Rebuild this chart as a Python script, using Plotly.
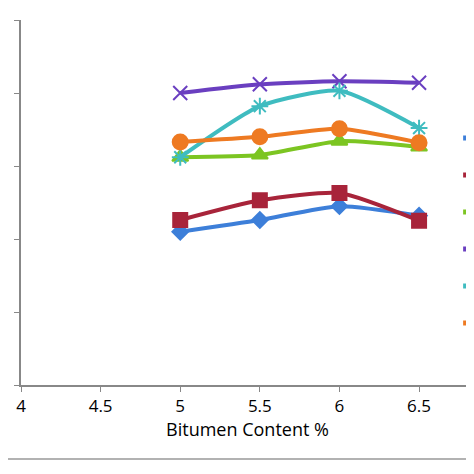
import plotly.graph_objects as go

# bitumen content on x, property values (y labels are cropped)
bitumen = [5, 5.5, 6, 6.5]
blue_vals = [2.10, 2.26, 2.45, 2.32]
red_vals = [2.26, 2.53, 2.63, 2.25]
green_vals = [3.12, 3.15, 3.34, 3.26]
purple_vals = [4.00, 4.12, 4.16, 4.14]
cyan_vals = [3.12, 3.82, 4.03, 3.52]
orange_vals = [3.33, 3.40, 3.51, 3.32]

series = [
    (blue_vals, "#3d7fd9", "diamond", 12),
    (red_vals, "#a8243a", "square", 14),
    (green_vals, "#7cc522", "triangle-up", 14),
    (purple_vals, "#6a3fc0", "x-thin-open", 14),
    (cyan_vals, "#3fbcc0", "asterisk-open", 14),
    (orange_vals, "#ee7a22", "circle", 15),
]

fig = go.Figure()
for vals, col, sym, sz in series:
    fig.add_trace(go.Scatter(
        x=bitumen, y=vals, mode="lines+markers",
        line=dict(color=col, width=4, shape="spline", smoothing=0.6),
        marker=dict(symbol=sym, size=sz, color=col, line=dict(color=col, width=2)),
        showlegend=False, cliponaxis=False))

# the page body adds 8px, so the figure is laid out 8px smaller
# legend keys (names cut off in the reference)
for i, (vals, col, sym, sz) in enumerate(series):
    yp = (385 - (138 + i * 37)) / 365
    fig.add_shape(type="line", xref="paper", yref="paper", x0=0.976, x1=1.0,
                  y0=yp, y1=yp, line=dict(color=col, width=5))

# outer frame lines
for yp in [(385 - 3) / 365, (385 - 459) / 365]:
    fig.add_shape(type="line", xref="paper", yref="paper", x0=-0.1, x1=1.0,
                  y0=yp, y1=yp, line=dict(color="#999999", width=1.5))

fig.update_layout(
    width=466, height=466,
    margin=dict(l=13, r=0, t=12, b=89, autoexpand=False),
    plot_bgcolor="white", paper_bgcolor="white",
    font=dict(family="Open Sans", color="black"),
    xaxis=dict(range=[4, 6.845], tickvals=[4, 4.5, 5, 5.5, 6, 6.5],
               ticktext=["4", "4.5", "5", "5.5", "6", "6.5"],
               ticks="outside", ticklen=5, tickcolor="#888",
               showline=True, linecolor="#888", linewidth=1.5, showgrid=False,
               zeroline=False, tickfont=dict(size=17),
               title=dict(text="Bitumen Content %", font=dict(size=18), standoff=2)),
    yaxis=dict(range=[0, 5], tickvals=[0, 1, 2, 3, 4, 5], showticklabels=False,
               ticks="outside", ticklen=5, tickcolor="#888",
               showline=True, linecolor="#888", linewidth=1.5, showgrid=False,
               zeroline=False),
)

fig.write_html("out.html")
